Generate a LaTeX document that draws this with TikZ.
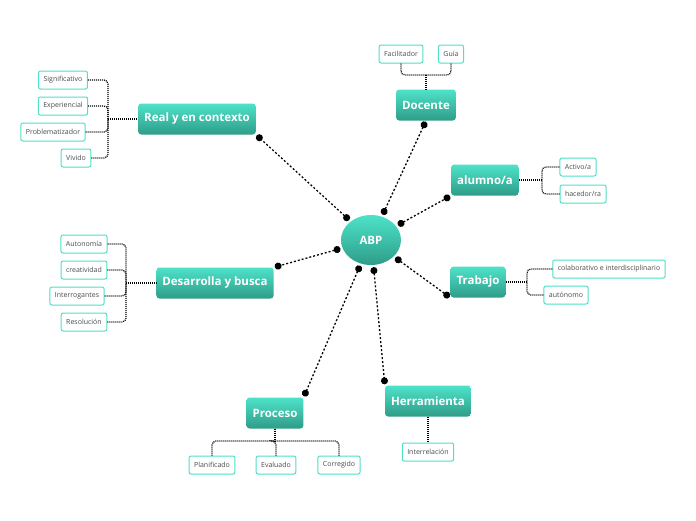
\documentclass[tikz,border=0pt]{standalone}
\usepackage{fontspec}
\setmainfont{Open Sans}
\usetikzlibrary{arrows.meta,shapes.geometric}
\definecolor{tealtop}{HTML}{4DE3C9}
\definecolor{tealbot}{HTML}{2E9C88}
\definecolor{leafline}{HTML}{4FE0C8}
\tikzset{
  main/.style={rounded corners=3pt,top color=tealtop,bottom color=tealbot,draw=none,
    text=white,font=\bfseries\fontsize{11.5}{13}\selectfont,minimum height=31pt,inner xsep=6pt},
  hub/.style={ellipse,top color=tealtop,bottom color=tealbot,draw=none,text=white,
    font=\bfseries\fontsize{11.5}{13}\selectfont,minimum width=60pt,minimum height=50pt},
  leaf/.style={rounded corners=2pt,draw=leafline,line width=1pt,fill=white,text=black!70,
    font=\fontsize{7}{8}\selectfont,minimum height=18pt,inner xsep=5pt},
  link/.style={{Circle[length=7pt]}-{Circle[length=7pt]},line width=1.3pt,dash pattern=on 2pt off 2pt,shorten <=2pt,shorten >=1pt},
  branch/.style={line width=1.3pt,dash pattern=on 1pt off 1pt,rounded corners=4pt}
}
\begin{document}
\begin{tikzpicture}[x=1pt,y=-1pt]
\useasboundingbox (0,0) rectangle (696,520);
\node[hub] (abp) at (371,240) {ABP};

\node[main] (real) at (197,119) {Real y en contexto};
\node[main] (doc) at (426,105) {Docente};
\node[main] (alum) at (485,180) {alumno/a};
\node[main] (trab) at (478,282) {Trabajo};
\node[main] (herr) at (428,401) {Herramienta};
\node[main] (proc) at (275,413) {Proceso};
\node[main] (desa) at (215,283) {Desarrolla y busca};

\draw[link] (abp) -- (real.south east);
\draw[link] (abp) -- (doc.south);
\draw[link] (abp) -- (alum.south west);
\draw[link] (abp) -- (trab.south west);
\draw[link] (abp) -- (herr.north west);
\draw[link] (abp) -- (proc.north east);
\draw[link] (abp) -- (desa.north east);

% hojas
\node[leaf] (sig) at (63,80) {Significativo};
\node[leaf] (exp) at (63,106) {Experiencial};
\node[leaf] (pro) at (53,132) {Problematizador};
\node[leaf] (viv) at (76,158) {Vivido};
\coordinate (jreal) at (108,119);
\draw[branch] (jreal) -- (real.west);
\foreach \n in {sig,exp,pro,viv} \draw[branch] (\n.east) -| (jreal);

\node[leaf] (fac) at (401,54) {Facilitador};
\node[leaf] (gui) at (451,54) {Guía};
\coordinate (jdoc) at (426,75);
\draw[branch] (jdoc) -- (doc.north);
\foreach \n in {fac,gui} \draw[branch] (\n.south) |- (jdoc);

\node[leaf] (act) at (578,167) {Activo/a};
\node[leaf] (hac) at (583,194) {hacedor/ra};
\coordinate (jalum) at (542,180);
\draw[branch] (alum.east) -- (jalum);
\foreach \n in {act,hac} \draw[branch] (\n.west) -| (jalum);

\node[leaf] (col) at (609,269) {colaborativo e interdisciplinario};
\node[leaf] (aut) at (566,295) {autónomo};
\coordinate (jtrab) at (527,282);
\draw[branch] (trab.east) -- (jtrab);
\foreach \n in {col,aut} \draw[branch] (\n.west) -| (jtrab);

\node[leaf] (int) at (428,452) {Interrelación};
\draw[branch] (herr.south) -- (int.north);

\node[leaf] (pla) at (212,465) {Planificado};
\node[leaf] (eva) at (276,465) {Evaluado};
\node[leaf] (cor) at (339,465) {Corregido};
\coordinate (jproc) at (275,441);
\draw[branch] (proc.south) -- (jproc);
\foreach \n in {pla,eva,cor} \draw[branch] (\n.north) |- (jproc);

\node[leaf] (ato) at (84,244) {Autonomía};
\node[leaf] (cre) at (84,270) {creatividad};
\node[leaf] (inr) at (77,296) {Interrogantes};
\node[leaf] (res) at (84,322) {Resolución};
\coordinate (jdesa) at (126,283);
\draw[branch] (jdesa) -- (desa.west);
\foreach \n in {ato,cre,inr,res} \draw[branch] (\n.east) -| (jdesa);
\end{tikzpicture}
\end{document}
